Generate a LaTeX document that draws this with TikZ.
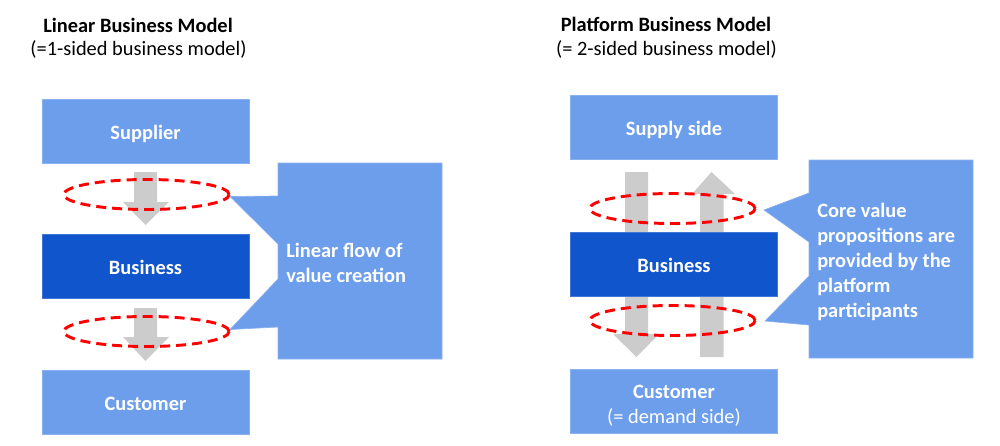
\documentclass[tikz,border=0pt]{standalone}
\usepackage{fontspec}
\setmainfont{Carlito}
\usetikzlibrary{shapes.geometric}
\definecolor{lightb}{HTML}{6D9EEB}
\definecolor{darkb}{HTML}{1155CC}
\definecolor{grayarrow}{HTML}{CCCCCC}
\tikzset{
  box/.style={rectangle,inner sep=0pt,outer sep=0pt,draw=lightb!80!white,line width=0.5pt,minimum width=155.5pt,minimum height=48pt,fill=lightb,text=white,font=\fontsize{15.3}{18.75}\selectfont},
  oneline/.style={text height=13pt,text depth=0.4pt},
  darkbox/.style={box,fill=darkb,draw=darkb!80!white},
  callout/.style={fill=lightb,draw=lightb!80!white,line width=0.5pt,line join=miter},
  calltext/.style={inner sep=0pt,anchor=west,text=white,align=left,font=\fontsize{15.3}{18.6}\selectfont\bfseries},
  flow/.style={fill=grayarrow,draw=none},
  ring/.style={ellipse,draw=red,line width=2.2pt,dash pattern=on 7.5pt off 4.5pt,inner sep=0pt,minimum width=124pt,minimum height=22.5pt},
  title/.style={inner sep=0pt,font=\fontsize{15.3}{18}\selectfont\bfseries},
  subtitle/.style={inner sep=0pt,font=\fontsize{15.3}{18}\selectfont},
}
\begin{document}
\begin{tikzpicture}[x=0.75pt,y=-0.75pt]
\useasboundingbox (0,0) rectangle (1000,446);
% titles
\node[title] (t1) at (138,25) {Linear Business Model};
\node[subtitle] (s1) at (138.5,49) {(=1-sided business model)};
\node[title] (t2) at (666,24) {Platform Business Model};
\node[subtitle] (s2) at (666.5,49) {(= 2-sided business model)};
% left arrows
\path[flow] (134,172) -- (157,172) -- (157,202) -- (169,202) -- (145.5,225) -- (123,202) -- (134,202) -- cycle;
\path[flow] (134,308) -- (157,308) -- (157,337) -- (169,337) -- (145.5,361) -- (123,337) -- (134,337) -- cycle;
% left boxes
\node[box,oneline] (sup) at (145.5,131) {\bfseries Supplier};
\node[darkbox,oneline] (bus) at (145.5,266.5) {\bfseries Business};
\node[box,oneline] (cus) at (145.5,402) {\bfseries Customer};
% left callout
\path[callout] (278,163) -- (442,163) -- (442,359) -- (278,359) -- (278,327) -- (230,329.5) -- (278,279) -- (278,244) -- (230,196.5) -- (278,196) -- cycle;
\node[calltext] (lf) at (286,263) {Linear flow of\\value creation};
\node[ring] (r1) at (146.5,194.5) {};
\node[ring] (r2) at (146.5,331.5) {};
% right arrows
\path[flow] (625,172) -- (648,172) -- (648,334) -- (659,334) -- (636.5,357) -- (613,334) -- (625,334) -- cycle;
\path[flow] (700,357) -- (723.5,357) -- (723.5,194) -- (735,194) -- (711.5,172) -- (692,194) -- (700,194) -- cycle;
% right boxes
\node[box,oneline] (sup2) at (674,127.5) {\bfseries Supply side};
\node[darkbox,oneline] (bus2) at (674,264.5) {\bfseries Business};
\node[box] (cus2) at (674,401.5) {\raisebox{0pt}[25.25pt][11.25pt]{\begin{tabular}{@{}c@{}}\textbf{Customer}\\(= demand side)\end{tabular}}};
% right callout
\path[callout] (809,160) -- (973,160) -- (973,358) -- (809,358) -- (809,325) -- (765,321) -- (809,276) -- (809,242) -- (764,210) -- (809,193) -- cycle;
\node[calltext] (cv) at (817,262) {Core value\\propositions are\\provided by the\\platform\\participants};
\node[ring] (r3) at (672.5,208.5) {};
\node[ring] (r4) at (672.5,320.5) {};
\end{tikzpicture}
\end{document}
